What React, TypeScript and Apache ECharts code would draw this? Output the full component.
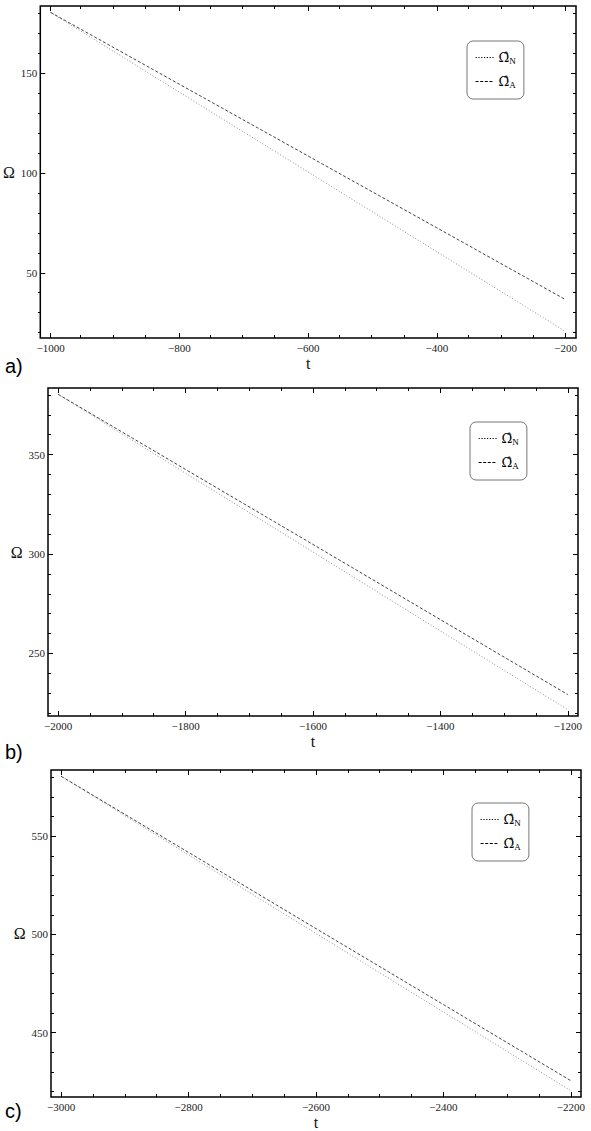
import { useEffect, useRef } from 'react';
import * as echarts from 'echarts';

// values (t, Omega hat N dotted, Omega hat A dashed)
const timesA = [-1000, -800, -600, -400, -200];
const omegaNA = [180.5, 140.5, 100.5, 60.5, 20.5];
const omegaAA = [180.5, 144.5, 108.5, 72.5, 36.5];

const timesB = [-2000, -1800, -1600, -1400, -1200];
const omegaNB = [380.3, 340.6, 301, 261.3, 221.7];
const omegaAB = [380.3, 342.5, 304.8, 267, 229.3];

const timesC = [-3000, -2800, -2600, -2400, -2200];
const omegaNC = [580.6, 540.5, 500.5, 460.5, 420.4];
const omegaAC = [580.6, 541.8, 503, 464.3, 425.5];

const yTicksA = [50, 100, 150];
const yTicksB = [250, 300, 350];
const yTicksC = [450, 500, 550];

const seriesNames = ['\u03A9\u0302N', '\u03A9\u0302A'];
const panelLabels = ['a)', 'b)', 'c)'];
const xName = 't';
const yName = '\u03A9';

const panels = [
    { t: timesA, n: omegaNA, a: omegaAA, yTicks: yTicksA },
    { t: timesB, n: omegaNB, a: omegaAB, yTicks: yTicksB },
    { t: timesC, n: omegaNC, a: omegaAC, yTicks: yTicksC },
];

// layout, in page pixels
const grids = [
    { left: 38, top: 6, width: 538, height: 332 },
    { left: 48, top: 388, width: 530, height: 328 },
    { left: 51, top: 770, width: 530, height: 327 },
];
const legendPos = [
    { left: 467, top: 41 },
    { left: 470, top: 422 },
    { left: 472, top: 803 },
];
const labelPos = [
    { x: 5, y: 366 },
    { x: 5, y: 752 },
    { x: 5, y: 1111 },
];
const yNameGap = [20, 24, 25];

const serif = 'Liberation Serif';
const minus = (v: number) => (v < 0 ? '\u2212' + Math.abs(v) : String(v));

const minorBetween = (lo: number, hi: number, step: number, major: number) => {
    const out: number[] = [];
    const start = Math.ceil(lo / step) * step;
    for (let v = start; v <= hi; v += step) {
        if (Math.abs(v % major) > 1e-6) out.push(v);
    }
    return out;
};

const App: React.FC = () => {
    const chartRef = useRef<HTMLDivElement>(null);

    useEffect(() => {
        document.body.style.margin = '0';
        if (!chartRef.current) return;
        const chart = echarts.init(chartRef.current, null, { renderer: 'svg' });

        const gridOpts: any[] = [];
        const xAxes: any[] = [];
        const yAxes: any[] = [];
        const series: any[] = [];
        const legends: any[] = [];
        const graphics: any[] = [];

        panels.forEach((p, i) => {
            const g = grids[i];
            gridOpts.push({
                ...g,
                show: true,
                borderColor: '#000',
                borderWidth: 1.5,
                backgroundColor: 'transparent',
                containLabel: false,
            });
            gridOpts.push({ ...g, show: false, containLabel: false });

            const tLo = p.t[0];
            const tHi = p.t[p.t.length - 1];
            const tPad = (tHi - tLo) * 0.02;
            const xMin = tLo - tPad;
            const xMax = tHi + tPad;
            const all = [...p.n, ...p.a];
            const vLo = Math.min(...all);
            const vHi = Math.max(...all);
            const vPad = (vHi - vLo) * 0.02;
            const yMin = vLo - vPad;
            const yMax = vHi + vPad;

            const xMinor = minorBetween(xMin, xMax, 50, 200);
            const yMinor = minorBetween(yMin, yMax, 10, 50);

            const tickBase = (values: number[], len: number) => ({
                show: true,
                inside: true,
                length: len,
                customValues: values,
                lineStyle: { color: '#000', width: 1 },
            });
            const hidden = {
                axisLine: { show: false },
                splitLine: { show: false },
            };

            // x axes: bottom major, top major (grid 2i), bottom minor, top minor (grid 2i+1)
            xAxes.push({
                gridIndex: 2 * i,
                type: 'value',
                position: 'bottom',
                min: xMin,
                max: xMax,
                ...hidden,
                axisTick: tickBase(p.t, 5),
                axisLabel: {
                    customValues: p.t,
                    formatter: minus,
                    fontFamily: serif,
                    fontSize: 11,
                    color: '#222',
                    margin: 4,
                },
                name: xName,
                nameLocation: 'middle',
                nameGap: 17,
                nameTextStyle: { fontFamily: serif, fontSize: 16, color: '#111' },
            });
            xAxes.push({
                gridIndex: 2 * i,
                type: 'value',
                position: 'top',
                min: xMin,
                max: xMax,
                ...hidden,
                axisTick: tickBase(p.t, 5),
                axisLabel: { show: false },
            });
            xAxes.push({
                gridIndex: 2 * i + 1,
                type: 'value',
                position: 'bottom',
                min: xMin,
                max: xMax,
                ...hidden,
                axisTick: tickBase(xMinor, 3),
                axisLabel: { show: false },
            });
            xAxes.push({
                gridIndex: 2 * i + 1,
                type: 'value',
                position: 'top',
                min: xMin,
                max: xMax,
                ...hidden,
                axisTick: tickBase(xMinor, 3),
                axisLabel: { show: false },
            });

            yAxes.push({
                gridIndex: 2 * i,
                type: 'value',
                position: 'left',
                min: yMin,
                max: yMax,
                ...hidden,
                axisTick: tickBase(p.yTicks, 5),
                axisLabel: {
                    customValues: p.yTicks,
                    fontFamily: serif,
                    fontSize: 11,
                    color: '#222',
                    margin: 3,
                },
                name: yName,
                nameLocation: 'middle',
                nameRotate: 0,
                nameGap: yNameGap[i],
                nameTextStyle: { fontFamily: serif, fontSize: 16, color: '#111' },
            });
            yAxes.push({
                gridIndex: 2 * i,
                type: 'value',
                position: 'right',
                min: yMin,
                max: yMax,
                ...hidden,
                axisTick: tickBase(p.yTicks, 5),
                axisLabel: { show: false },
            });
            yAxes.push({
                gridIndex: 2 * i + 1,
                type: 'value',
                position: 'left',
                min: yMin,
                max: yMax,
                ...hidden,
                axisTick: tickBase(yMinor, 3),
                axisLabel: { show: false },
            });
            yAxes.push({
                gridIndex: 2 * i + 1,
                type: 'value',
                position: 'right',
                min: yMin,
                max: yMax,
                ...hidden,
                axisTick: tickBase(yMinor, 3),
                axisLabel: { show: false },
            });

            series.push({
                name: seriesNames[0],
                type: 'line',
                xAxisIndex: 4 * i,
                yAxisIndex: 4 * i,
                symbol: 'none',
                data: p.t.map((t, k) => [t, p.n[k]]),
                lineStyle: { color: '#8c8c8c', width: 1, type: [1, 2] },
                itemStyle: { color: '#000' },
            });
            series.push({
                name: seriesNames[1],
                type: 'line',
                xAxisIndex: 4 * i,
                yAxisIndex: 4 * i,
                symbol: 'none',
                data: p.t.map((t, k) => [t, p.a[k]]),
                lineStyle: { color: '#444', width: 1, type: [3, 2] },
                itemStyle: { color: '#000' },
            });

            legends.push({
                ...legendPos[i],
                orient: 'vertical',
                backgroundColor: '#fff',
                borderColor: '#777',
                borderWidth: 1,
                borderRadius: 6,
                padding: [10, 8, 10, 8],
                itemGap: 10,
                itemWidth: 18,
                itemHeight: 12,
                selectedMode: false,
                data: [
                    {
                        name: seriesNames[0],
                        itemStyle: { opacity: 0 },
                        lineStyle: { color: '#000', width: 1.2, type: [1.2, 1.6], opacity: 1 },
                    },
                    {
                        name: seriesNames[1],
                        itemStyle: { opacity: 0 },
                        lineStyle: { color: '#000', width: 1.2, type: [3, 1.6], opacity: 1 },
                    },
                ],
                formatter: (name: string) => `{m|${name.slice(0, -1)}}{s|${name.slice(-1)}}`,
                textStyle: {
                    rich: {
                        m: { fontFamily: 'DejaVu Serif', fontSize: 13, color: '#000', lineHeight: 18 },
                        s: { fontFamily: serif, fontSize: 9, color: '#000', padding: [6, 0, 0, 0] },
                    },
                },
            });

            graphics.push({
                type: 'text',
                x: labelPos[i].x,
                y: labelPos[i].y,
                style: {
                    text: panelLabels[i],
                    font: '20px "Liberation Sans"',
                    fill: '#000',
                    verticalAlign: 'middle',
                },
            });
        });

        const option = {
            animation: false,
            backgroundColor: '#fff',
            grid: gridOpts,
            xAxis: xAxes,
            yAxis: yAxes,
            series,
            legend: legends,
            graphic: graphics,
        };

        chart.setOption(option as any);

        return () => {
            chart.dispose();
        };
    }, []);

    return <div ref={chartRef} style={{ width: '591px', height: '1131px' }} />;
};

export default App;
